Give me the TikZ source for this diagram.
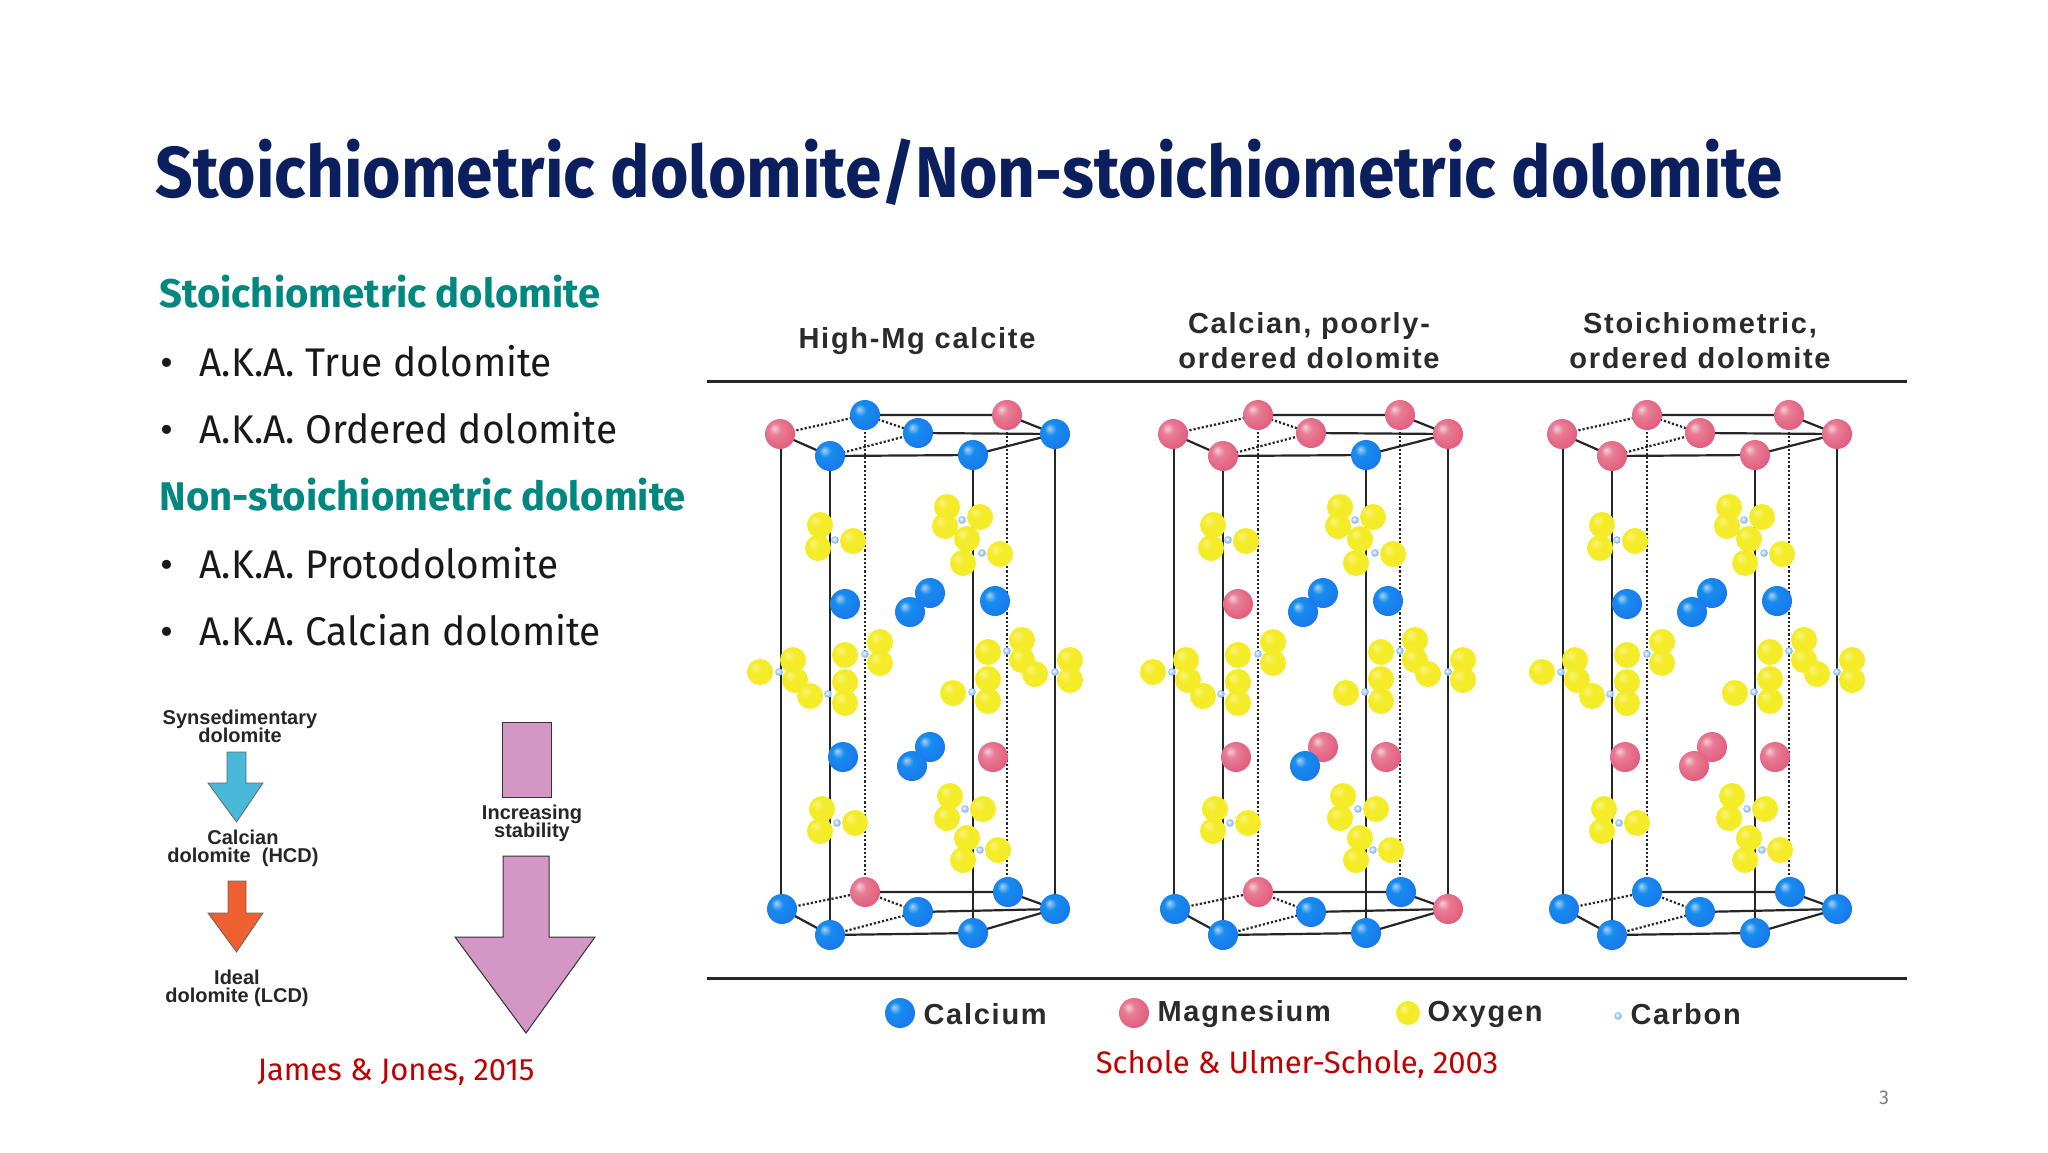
\documentclass[tikz,border=0pt]{standalone}
\usepackage{fontspec}
\setmainfont{Fira Sans}
\newfontfamily\arialf{Liberation Sans}
\definecolor{navy}{HTML}{0B1F5E}
\definecolor{teal2}{HTML}{00877F}
\definecolor{credit}{HTML}{C00000}
\definecolor{bl}{HTML}{1A78EC}
\definecolor{pk}{HTML}{E25C7C}
\definecolor{yl}{HTML}{F4EC28}
\definecolor{cb}{HTML}{8EC0EA}
\definecolor{arrA}{HTML}{4AB8D8}
\definecolor{arrB}{HTML}{EF6030}
\definecolor{arrC}{HTML}{D496C4}
\definecolor{hdr}{HTML}{2B2B2B}
\pgfdeclareradialshading{ballbl}{\pgfpoint{-10bp}{10bp}}{color(0bp)=(bl!35!white); color(10bp)=(bl!85!cyan); color(30bp)=(bl); color(42bp)=(bl!75!black); color(50bp)=(bl!70!black)}
\pgfdeclareradialshading{ballpk}{\pgfpoint{-10bp}{10bp}}{color(0bp)=(pk!30!white); color(10bp)=(pk!80!white); color(30bp)=(pk); color(42bp)=(pk!80!black); color(50bp)=(pk!75!black)}
\pgfdeclareradialshading{ballyl}{\pgfpoint{-10bp}{10bp}}{color(0bp)=(yl!60!white); color(12bp)=(yl); color(34bp)=(yl); color(44bp)=(yl!85!black); color(50bp)=(yl!80!black)}
\pgfdeclareradialshading{ballcb}{\pgfpoint{-8bp}{8bp}}{color(0bp)=(white); color(20bp)=(cb); color(50bp)=(cb!70!blue)}
\tikzset{
 solidl/.style={line width=2.2pt,black!85},
 dotl/.style={line width=2.2pt,black!85,dotted},
 lbl/.style={font=\arialf\bfseries\fontsize{20}{22}\selectfont,align=center,text=black!85},
 colhead/.style={font=\arialf\bfseries\fontsize{29}{35}\selectfont\addfontfeatures{LetterSpace=6},align=center,text=hdr},
 bullet/.style={font=\fontsize{40}{44}\selectfont,anchor=base west,text=black!90},
 sect/.style={font=\bfseries\fontsize{40}{44}\selectfont,anchor=base west,text=teal2},
 cred/.style={font=\fontsize{31}{36}\selectfont,text=credit}
}
\newcommand\Metal[3]{\shade[shading=ball#3] (#1,#2) circle (15);}
\newcommand\Oxy[2]{\shade[shading=ballyl] (#1,#2) circle (13);}
\newcommand\Carb[2]{\shade[shading=ballcb] (#1,#2) circle (3.8);}
\newcommand\Frame{%
 \draw[solidl] (780,434)--(830,456)--(973,455)--(1055,434)--(1007,415)--(865,415);
 \draw[solidl] (918,433)--(1055,434);
 \draw[dotl] (780,434)--(865,415)--(918,433)--(830,456);
 \draw[solidl] (782,909)--(830,935)--(973,933)--(1055,909)--(1008,892)--(865,892);
 \draw[solidl] (918,912)--(1055,909);
 \draw[dotl] (782,909)--(865,892)--(918,912)--(830,935);
 \draw[solidl] (781,434)--(781,909);
 \draw[solidl] (830,456)--(830,935);
 \draw[solidl] (973,455)--(973,933);
 \draw[solidl] (1055,434)--(1055,909);
 \foreach \x in {865,1007} \draw[dotl] (\x,415)--(\x,892);
 \foreach \a/\b in {820/525,818/548,853/541,947/507,945/526,980/517,967/539,963/563,1000/554,
   760/672,793/660,795/680,810/696,845/655,845/682,845/703,880/642,880/663,
   953/693,988/652,988/679,988/701,1022/640,1022/660,1035/674,1070/660,1070/680,
   822/809,820/831,855/823,950/796,947/818,983/809,967/838,963/860,998/850} \Oxy{\a}{\b};
 \foreach \a/\b in {835/540,962/520,982/553,779/672,828/694,972/692,865/654,1007/651,1055/672,837/823,965/809,980/850} \Carb{\a}{\b};
}
\newcommand\TopAtoms[7]{\Metal{865}{415}{#2}\Metal{1007}{415}{#4}\Metal{780}{434}{#1}\Metal{918}{433}{#3}\Metal{1055}{434}{#5}\Metal{830}{456}{#6}\Metal{973}{455}{#7}}
\newcommand\BotAtoms[7]{\Metal{865}{892}{#2}\Metal{1008}{892}{#4}\Metal{782}{909}{#1}\Metal{918}{912}{#3}\Metal{1055}{909}{#5}\Metal{830}{935}{#6}\Metal{973}{933}{#7}}
\newcommand\MidAtoms[8]{\Metal{845}{604}{#1}\Metal{930}{593}{#2}\Metal{910}{612}{#3}\Metal{995}{601}{#4}
 \Metal{843}{757}{#5}\Metal{930}{747}{#6}\Metal{912}{766}{#7}\Metal{993}{757}{#8}}
\begin{document}
\begin{tikzpicture}[x=1pt,y=-1pt]
\useasboundingbox (0,0) rectangle (2048,1152);
\fill[white] (0,0) rectangle (2048,1152);
\node[anchor=west,text=navy,font=\bfseries\fontsize{72}{80}\selectfont] (title) at (152,172) {\scalebox{0.915}[1]{Stoichiometric dolomite/Non-stoichiometric dolomite}};
\node[sect] (s1) at (156,307) {Stoichiometric dolomite};
\node[bullet] (b1) at (157,376) {\textbullet\hspace{26pt}\scalebox{0.97}[1]{A.K.A. True dolomite}};
\node[bullet] (b2) at (157,443) {\textbullet\hspace{26pt}\scalebox{0.97}[1]{A.K.A. Ordered dolomite}};
\node[sect] (s2) at (156,510) {Non-stoichiometric dolomite};
\node[bullet] (b3) at (157,578) {\textbullet\hspace{26pt}\scalebox{0.97}[1]{A.K.A. Protodolomite}};
\node[bullet] (b4) at (157,645) {\textbullet\hspace{26pt}\scalebox{0.97}[1]{A.K.A. Calcian dolomite}};
\node[lbl] (syn) at (240,726) {Synsedimentary\\[-4pt]dolomite};
\node[lbl] (hcd) at (243,848) {Calcian\\[-4pt]dolomite~ (HCD)};
\node[lbl] (lcd) at (237,988) {Ideal\\[-4pt]dolomite (LCD)};
\draw[fill=arrA,draw=black!60,line width=0.8pt] (227,752)--(246,752)--(246,783)--(263,783)--(236.5,822)--(208,783)--(227,783)--cycle;
\draw[fill=arrB,draw=black!60,line width=0.8pt] (228,881)--(246,881)--(246,913)--(263,913)--(236.5,952)--(208,913)--(228,913)--cycle;
\draw[fill=arrC,draw=black!80,line width=1pt] (502,722) rectangle (551,797);
\node[lbl] (inc) at (532,823) {Increasing\\[-4pt]stability};
\draw[fill=arrC,draw=black!80,line width=1pt] (503,856)--(549,856)--(549,937)--(595,937)--(526,1033)--(455,937)--(503,937)--cycle;
\node[cred] (c1) at (396,1072) {James \& Jones, 2015};
\draw[line width=3pt,black!85] (707,381) -- (1907,381);
\draw[line width=3pt,black!85] (707,978) -- (1907,978);
\node[colhead] (h1) at (917,341) {High-Mg calcite};
\node[colhead] (h2) at (1309,341) {Calcian, poorly-\\ordered dolomite};
\node[colhead] (h3) at (1700,341) {Stoichiometric,\\ordered dolomite};
\begin{scope}
 \Frame
 \TopAtoms{pk}{bl}{bl}{pk}{bl}{bl}{bl}
 \BotAtoms{bl}{pk}{bl}{bl}{bl}{bl}{bl}
 \MidAtoms{bl}{bl}{bl}{bl}{bl}{bl}{bl}{pk}
\end{scope}
\begin{scope}[xshift=393pt]
 \Frame
 \TopAtoms{pk}{pk}{pk}{pk}{pk}{pk}{bl}
 \BotAtoms{bl}{pk}{bl}{bl}{pk}{bl}{bl}
 \MidAtoms{pk}{bl}{bl}{bl}{pk}{pk}{bl}{pk}
\end{scope}
\begin{scope}[xshift=782pt]
 \Frame
 \TopAtoms{pk}{pk}{pk}{pk}{pk}{pk}{pk}
 \BotAtoms{bl}{bl}{bl}{bl}{bl}{bl}{bl}
 \MidAtoms{bl}{bl}{bl}{bl}{pk}{pk}{pk}{pk}
\end{scope}
\Metal{900}{1013}{bl}
\node[colhead,anchor=west] (l1) at (920,1014) {Calcium};
\Metal{1134}{1013}{pk}
\node[colhead,anchor=west] (l2) at (1154,1014) {Magnesium};
\shade[shading=ballyl] (1408,1013) circle (12);
\node[colhead,anchor=west] (l3) at (1424,1014) {Oxygen};
\Carb{1618}{1016}
\node[colhead,anchor=west] (l4) at (1627,1014) {Carbon};
\node[cred] (c2) at (1297,1064) {Schole \& Ulmer-Schole, 2003};
\node[font=\fontsize{20}{24}\selectfont,text=black!50] (pg) at (1884,1098) {3};
\end{tikzpicture}
\end{document}
